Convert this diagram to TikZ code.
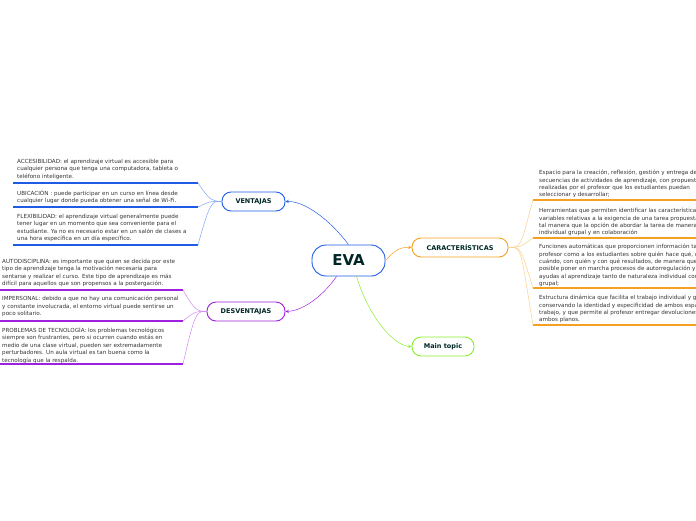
\documentclass[tikz,border=0pt]{standalone}
\usepackage{fontspec}
\setmainfont{DejaVu Sans}
\begin{document}
\begin{tikzpicture}[x=1pt,y=-1pt,
 topic/.style={draw,line width=0.9pt,rounded corners=9pt,fill=white,font=\bfseries\fontsize{6.5}{8}\selectfont,text=black!70!teal,inner sep=0pt},
 leaf/.style={anchor=north west,align=left,font=\fontsize{5.6}{7.4}\selectfont,text=black!80,inner sep=0pt},
 ul/.style={line width=1.1pt},
 br/.style={line width=0.5pt}]
\useasboundingbox (0,0) rectangle (696,520);
\clip (0,0) rectangle (696,520);
\definecolor{cb}{HTML}{1E5BE6}\definecolor{cbl}{HTML}{7FA6F5}
\definecolor{cp}{HTML}{A020E0}\definecolor{cpl}{HTML}{D08AF3}
\definecolor{co}{HTML}{F5A020}\definecolor{col}{HTML}{FAD08A}
\definecolor{cg}{HTML}{8AEE30}
% topics
\node[topic,draw=cb,minimum width=73pt,minimum height=31pt,rounded corners=14pt,font=\bfseries\fontsize{15}{17}\selectfont] (eva) at (348.5,260.5) {EVA};
\node[topic,draw=cb,minimum width=63pt,minimum height=19pt] (ven) at (253.5,201.5) {VENTAJAS};
\node[topic,draw=cp,minimum width=78pt,minimum height=19pt] (des) at (246,311.5) {DESVENTAJAS};
\node[topic,draw=co,minimum width=96pt,minimum height=19pt] (car) at (460,247.5) {CARACTERÍSTICAS};
\node[topic,draw=cg,minimum width=62pt,minimum height=19pt] (mt) at (443,346.5) {Main topic};
% main connectors
\draw[cb,br,-stealth] (eva.north) .. controls (330,220) and (305,201) .. (ven.east);
\draw[cp,br,-stealth] (eva.south west) ++(25,0) .. controls (320,300) and (300,311) .. (des.east);
\draw[co,br,-stealth] (eva.east) .. controls (395,250) and (400,247) .. (car.west);
\draw[cg,br,-stealth] (eva.south) ++(8,0) .. controls (370,320) and (395,346) .. (mt.west);
% VENTAJAS leaves
\node[leaf] (v1) at (17,159) {ACCESIBILIDAD: el aprendizaje virtual es accesible para\\cualquier persona que tenga una computadora, tableta o\\teléfono inteligente.};
\node[leaf] (v2) at (17,190) {UBICACIÓN : puede participar en un curso en línea desde\\cualquier lugar donde pueda obtener una señal de Wi-Fi.};
\node[leaf] (v3) at (17,214) {FLEXIBILIDAD: el aprendizaje virtual generalmente puede\\tener lugar en un momento que sea conveniente para el\\estudiante. Ya no es necesario estar en un salón de clases a\\una hora específica en un día específico.};
\coordinate (v1e) at (198,183); \coordinate (v2e) at (198,207); \coordinate (v3e) at (198,245);
\draw[cb,ul] (13,183) -- (v1e); \draw[cb,ul] (13,207) -- (v2e); \draw[cb,ul] (13,245) -- (v3e);
\foreach \e in {v1e,v2e,v3e} \draw[cbl,br] (ven.west) .. controls (212,201) and (210,201) .. (\e);
% DESVENTAJAS leaves
\node[leaf] (d1) at (2,259) {AUTODISCIPLINA: es importante que quien se decida por este\\tipo de aprendizaje tenga la motivación necesaria para\\sentarse y realizar el curso. Este tipo de aprendizaje es más\\difícil para aquellos que son propensos a la postergación.};
\node[leaf] (d2) at (2,296) {IMPERSONAL: debido a que no hay una comunicación personal\\y constante involucrada, el entorno virtual puede sentirse un\\poco solitario.};
\node[leaf] (d3) at (2,327) {PROBLEMAS DE TECNOLOGÍA: los problemas tecnológicos\\siempre son frustrantes, pero si ocurren cuando estás en\\medio de una clase virtual, pueden ser extremadamente\\perturbadores. Un aula virtual es tan buena como la\\tecnología que la respalda.};
\coordinate (d1e) at (183,290); \coordinate (d2e) at (183,321); \coordinate (d3e) at (183,364);
\draw[cp,ul] (0,290) -- (d1e); \draw[cp,ul] (0,321) -- (d2e); \draw[cp,ul] (0,364) -- (d3e);
\foreach \e in {d1e,d2e,d3e} \draw[cpl,br] (des.west) .. controls (197,311) and (195,311) .. (\e);
% CARACTERISTICAS leaves
\node[leaf] (c1) at (539,170) {Espacio para la creación, reflexión, gestión y entrega de\\secuencias de actividades de aprendizaje, con propuestas\\realizadas por el profesor que los estudiantes puedan\\seleccionar y desarrollar;};
\node[leaf] (c2) at (539,208) {Herramientas que permiten identificar las características y\\variables relativas a la exigencia de una tarea propuesta, de\\tal manera que la opción de abordar la tarea de manera\\individual grupal y en colaboración};
\node[leaf] (c3) at (539,244) {Funciones automáticas que proporcionen información tanto al\\profesor como a los estudiantes sobre quién hace qué, cómo,\\cuándo, con quién y con qué resultados, de manera que sea\\posible poner en marcha procesos de autorregulación y de\\ayudas al aprendizaje tanto de naturaleza individual como\\grupal;};
\node[leaf] (c4) at (539,295) {Estructura dinámica que facilita el trabajo individual y grupal\\conservando la identidad y especificidad de ambos espacios de\\trabajo, y que permite al profesor entregar devoluciones en\\ambos planos.};
\coordinate (c1s) at (533,200); \coordinate (c2s) at (533,238); \coordinate (c3s) at (533,288); \coordinate (c4s) at (533,325);
\draw[co,ul] (c1s) -- (700,200); \draw[co,ul] (c2s) -- (700,238); \draw[co,ul] (c3s) -- (700,288); \draw[co,ul] (c4s) -- (700,325);
\foreach \e in {c1s,c2s,c3s,c4s} \draw[col,br] (car.east) .. controls (522,247) and (520,247) .. (\e);
\end{tikzpicture}
\end{document}
